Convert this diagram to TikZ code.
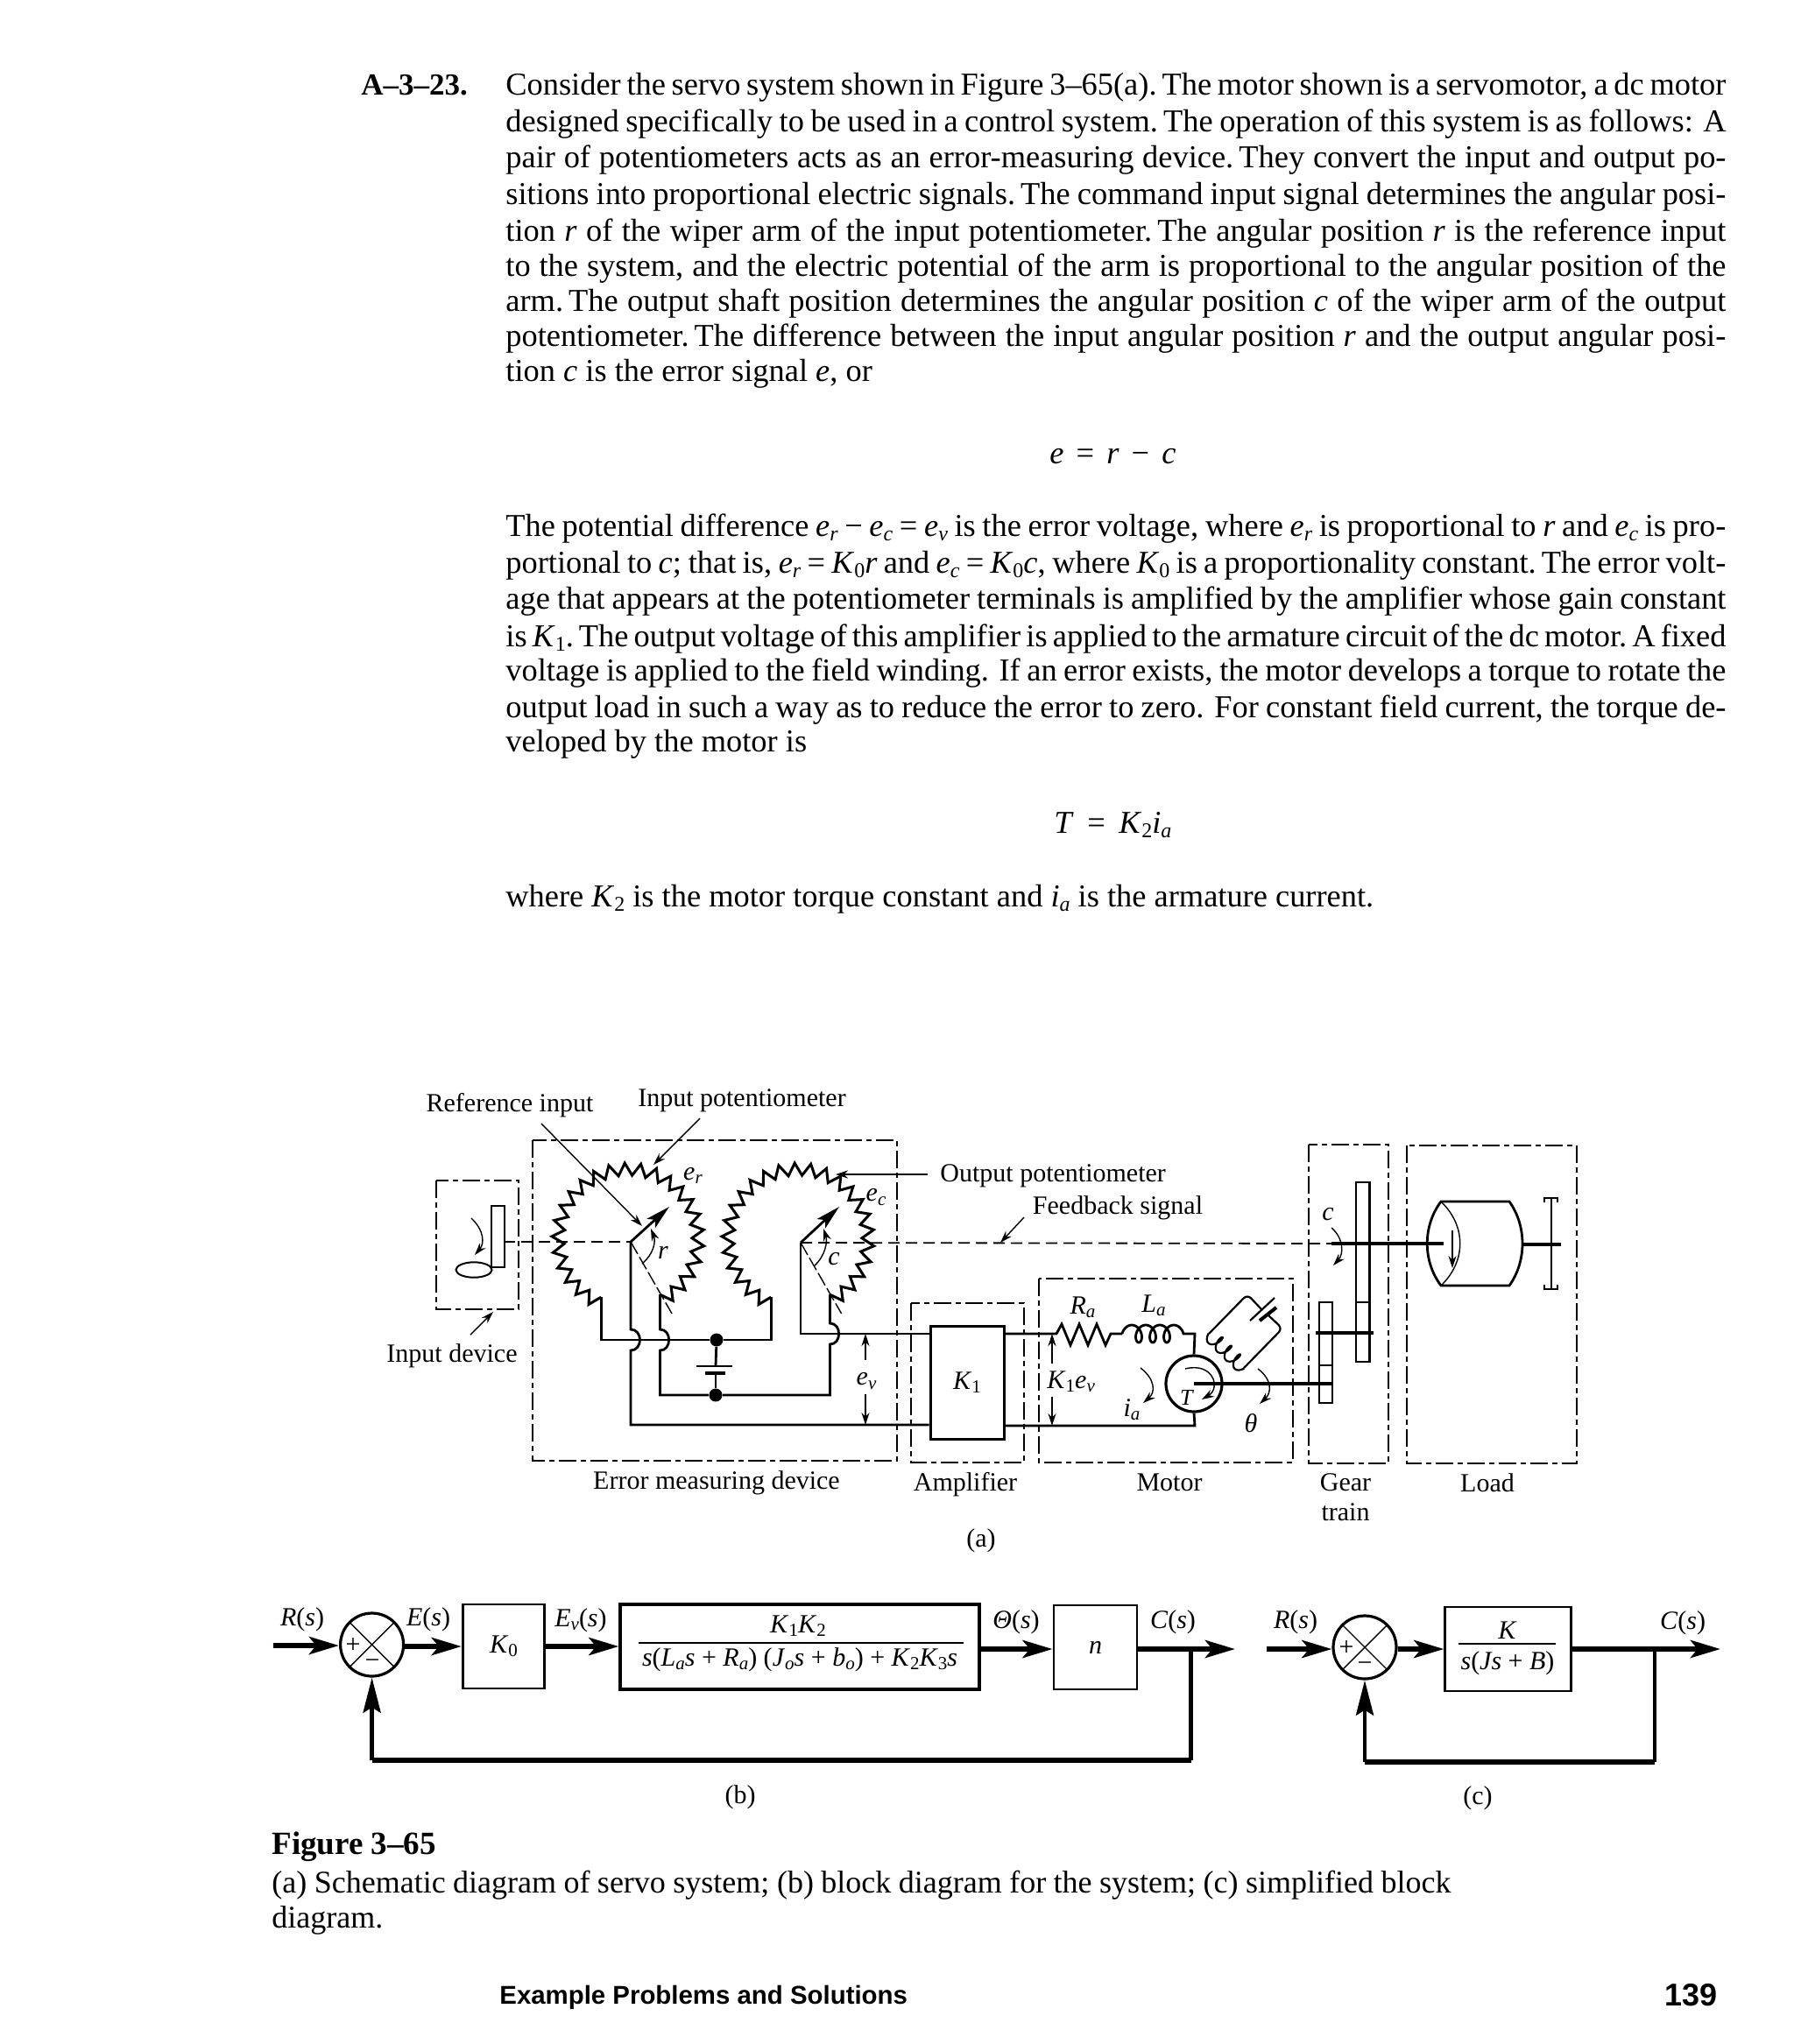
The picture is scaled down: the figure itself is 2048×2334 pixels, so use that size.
\documentclass[tikz,border=0pt]{standalone}
\usepackage{fontspec}
\setmainfont{Liberation Serif}
\newfontfamily\footfont{Liberation Sans}
\usetikzlibrary{arrows.meta,calc,shapes.geometric}
\newcommand\iv[1]{\textit{#1}}
\newcommand\sbi[2]{\textit{#1}\raisebox{-.3ex}{\fontsize{12}{12}\selectfont\textit{#2}}}
\newcommand\sbu[2]{\textit{#1}\raisebox{-.3ex}{\fontsize{12}{12}\selectfont #2}}
\newcommand\lsb[2]{\textit{#1}\raisebox{-.3ex}{\fontsize{10.5}{11}\selectfont\textit{#2}}}
\newcommand\lsu[2]{\textit{#1}\raisebox{-.3ex}{\fontsize{10.5}{11}\selectfont #2}}
\newcommand\jl[3]{\node[bodytxt] (#1) at (577,#2) {\makebox[696.5pt][s]{#3}};}
\newcommand\pl[3]{\node[bodytxt] (#1) at (577,#2) {#3};}
\newcommand\potzig[2]{\draw[wire,line width=1.5pt,line join=miter] plot[domain=0:50,samples=51] ({#1+(80-7*cos(180*\x))*cos(245-6.1*\x)},{#2-(80-7*cos(180*\x))*sin(245-6.1*\x)});}
\tikzset{
  bodytxt/.style={anchor=base west,inner sep=0pt,font=\fontsize{18.2}{20}\selectfont},
  lbl/.style={inner sep=0pt,font=\fontsize{15}{17}\selectfont},
  wire/.style={line width=1.4pt},
  thinl/.style={line width=.7pt},
  boxd/.style={line width=.75pt,dash pattern=on 10pt off 2.5pt on 3pt off 2.5pt},
  fbdash/.style={line width=.9pt,dash pattern=on 6.5pt off 3.5pt},
  thinar/.style={thinl,-{Stealth[length=7pt,width=4.5pt]}},
  sig/.style={line width=3pt,-{Stealth[length=17pt,width=10pt,inset=4pt]}},
  fb/.style={line width=2.4pt},
  blk/.style={draw,line width=1.4pt,inner sep=0pt},
  sumj/.style={draw,circle,line width=1.6pt,inner sep=0pt,minimum size=36pt},
  dotn/.style={circle,fill=black,inner sep=0pt,minimum size=7.5pt},
}
\begin{document}
\begin{tikzpicture}[x=.5pt,y=-.5pt]
\useasboundingbox (0,0) rectangle (2048,2334);
% ---- body text
\node[bodytxt,font=\fontsize{17.5}{20}\selectfont\bfseries] (prob) at (412,108) {A–3–23.};
\jl{l1}{108}{Consider the servo system shown in Figure 3–65(a).\,The motor shown is a servomotor, a dc motor}
\jl{l2}{150}{designed specifically to be used in a control system.\,The operation of this system is as follows: A}
\jl{l3}{191}{pair of potentiometers acts as an error-measuring device.\,They convert the input and output po-}
\jl{l4}{233}{sitions into proportional electric signals.\,The command input signal determines the angular posi-}
\jl{l5}{275}{tion \iv{r} of the wiper arm of the input potentiometer.\,The angular position \iv{r} is the reference input}
\jl{l6}{315}{to the system, and the electric potential of the arm is proportional to the angular position of the}
\jl{l7}{355}{arm.\,The output shaft position determines the angular position \iv{c} of the wiper arm of the output}
\jl{l8}{395}{potentiometer.\,The difference between the input angular position \iv{r} and the output angular posi-}
\pl{l9}{435}{tion \iv{c} is the error signal \iv{e}, or}
\node[bodytxt] (eq1) at (1198,529) {\makebox[72pt][s]{\iv{e} = \iv{r} − \iv{c}}};
\jl{m1}{612}{The potential difference \sbi{e}{r} − \sbi{e}{c} = \sbi{e}{v} is the error voltage, where \sbi{e}{r} is proportional to \iv{r} and \sbi{e}{c} is pro-}
\jl{m2}{654}{portional to \iv{c}; that is, \sbi{e}{r} = \sbu{K}{0}\iv{r} and \sbi{e}{c} = \sbu{K}{0}\iv{c}, where \sbu{K}{0} is a proportionality constant.\,The error volt-}
\jl{m3}{695}{age that appears at the potentiometer terminals is amplified by the amplifier whose gain constant}
\jl{m4}{738}{is \sbu{K}{1}.\,The output voltage of this amplifier is applied to the armature circuit of the dc motor.\,A fixed}
\jl{m5}{777}{voltage is applied to the field winding. If an error exists, the motor develops a torque to rotate the}
\jl{m6}{819}{output load in such a way as to reduce the error to zero. For constant field current, the torque de-}
\pl{m7}{858}{veloped by the motor is}
\node[bodytxt] (eq2) at (1203,951) {\makebox[67pt][s]{\iv{T} = \sbu{K}{2}\sbi{i}{a}}};
\pl{n1}{1035}{where \sbu{K}{2} is the motor torque constant and \sbi{i}{a} is the armature current.}
% ---- dashed boxes
\draw[boxd] (608,1302) rectangle (1024,1668);
\draw[boxd] (498,1348) rectangle (592,1495);
\draw[boxd] (1040,1488) rectangle (1169,1670);
\draw[boxd] (1186,1460) rectangle (1476,1670);
\draw[boxd] (1494,1307) rectangle (1585,1671);
\draw[boxd] (1606,1308) rectangle (1800,1671);
% ---- input device
\draw[thinl,line width=1pt] (561,1377) rectangle (576,1447);
\node[draw,ellipse,line width=1pt,minimum width=20.5pt,minimum height=8.7pt,inner sep=0pt] (knob) at (541,1450) {};
\draw[thinar] (538,1391) .. controls (553,1405) and (553,1420) .. (542,1433);
% ---- potentiometers
\potzig{717}{1415}
\potzig{911}{1415}
\coordinate (p1L) at (686.2,1481.2);
\coordinate (p1R) at (753.5,1478.2);
\coordinate (p2L) at (880.2,1481.2);
\coordinate (p2R) at (947.5,1478.2);
\coordinate (piv1) at (720,1418);
\coordinate (piv2) at (914,1419);
\coordinate (wip1) at (764,1378);
\coordinate (wip2) at (958,1378);
\node[dotn] (nA) at (818,1530) {};
\node[dotn] (nB) at (817,1593) {};
% amplifier
\node[blk,line width=1.5pt,minimum width=42pt,minimum height=64.5pt,font=\fontsize{15}{17}\selectfont] (amp) at (1104,1578.5) {\lsu{K}{1}};
% wires of the bridge
\draw[wire] (p1L) |- (nA) -| (p2L);
\draw[wire] (piv1) -- (720,1518) .. controls (734,1518) and (734,1542) .. (720,1542) -- (720,1627) -- (amp.west |- 0,1627);
\draw[wire] (p1R) -- (753.5,1518) .. controls (767,1518) and (767,1542) .. (753.5,1542) -- (753.5,1593) -- (nB) -- (947.5,1593) -- (947.5,1535) .. controls (961,1535) and (961,1511) .. (947.5,1511) -- (p2R);
\draw[wire] (piv2) -- (914,1523) -- (amp.west |- 0,1523);
\draw[wire,-{Stealth[length=14pt,width=7pt,inset=3pt]}] (piv1) -- (wip1);
\draw[wire,-{Stealth[length=14pt,width=7pt,inset=3pt]}] (piv2) -- (wip2);
% battery
\coordinate (batA) at (817,1560);
\coordinate (batB) at (817,1568);
\draw[wire] (nA) -- (batA);
\draw[wire] (795,1560) -- (836,1560);
\draw[wire,line width=1.6pt] (805,1568) -- (828,1568);
\draw[wire] (batB) -- (nB);
% angle marks
\draw[thinl,dash pattern=on 8pt off 2pt] (piv1) -- (767,1500);
\draw[thinl,dash pattern=on 8pt off 2pt] (piv2) -- (960.6,1500);
\draw[thinar] (733,1443) .. controls (746,1432) and (749,1418) .. (743,1403);
\draw[thinar] (930,1445) .. controls (942,1434) and (945,1418) .. (940,1403);
% feedback dashed
\draw[fbdash] (575,1418) -- (piv1);
\draw[fbdash] (piv2) -- (1520,1420);
% labels error part
\node[lbl] (tRef) at (582,1262) {Reference input};
\node[lbl] (tInp) at (847,1257) {Input potentiometer};
\node[lbl] (tDev) at (516,1548) {Input device};
\node[lbl] (ter) at (791,1342) {\lsb{e}{r}};
\node[lbl] (tec) at (1000,1367) {\lsb{e}{c}};
\node[lbl] (tr) at (757,1430) {\iv{r}};
\node[lbl] (tc) at (952,1438) {\iv{c}};
\node[lbl] (tev) at (989,1577) {\lsb{e}{v}};
\node[lbl] (tErr) at (818,1693) {Error measuring device};
\node[lbl] (tAmp) at (1102,1695) {Amplifier};
\node[lbl] (tMot) at (1335,1693) {Motor};
\node[lbl,align=center] (tG1) at (1536,1693) {Gear};
\node[lbl,align=center] (tG2) at (1536,1727) {train};
\node[lbl] (tLoad) at (1698,1693) {Load};
\node[lbl] (tA) at (1120,1759) {(a)};
\coordinate (refA) at (618,1283);
\coordinate (refB) at (733,1400);
\draw[thinar] (refA) -- (refB);
\coordinate (inpA) at (799,1277);
\coordinate (inpB) at (746,1330);
\draw[thinar] (inpA) -- (inpB);
\coordinate (devA) at (537,1524);
\coordinate (devB) at (563,1498);
\draw[thinar] (devA) -- (devB);
\node[lbl,anchor=west] (tOut) at (1073,1343) {Output potentiometer};
\coordinate (outA) at (1059,1341);
\draw[thinar] (outA) -- (954,1341);
\node[lbl] (tFb) at (1276,1379) {Feedback signal};
\draw[thinar] (1169,1390) -- (1142,1419);
% ev arrows
\draw[thinar] (988,1553) -- (988,1523);
\draw[thinar] (988,1592) -- (988,1627);
% motor
\node[draw,circle,line width=1.6pt,minimum size=32pt,inner sep=0pt] (mot) at (1363,1580) {};
\draw[wire] (amp.east |- 0,1523) -- (1206,1523) -- (1212,1512) -- (1222,1536) -- (1232,1512) -- (1242,1536) -- (1252,1512) -- (1262,1536) -- (1268,1523) -- (1281,1523)
  plot[domain=.25:3.75,samples=100,smooth] ({1284+16*\x-7*sin(360*\x)},{1533-10*(1-cos(360*\x))}) -- (1364,1523) -- (mot.north);
\draw[wire] (amp.east |- 0,1628) -- (1364,1628) -- (mot.south);
\draw[thinar] (1201,1557) -- (1201,1523);
\draw[thinar] (1201,1595) -- (1201,1628);
\node[lbl,anchor=west] (tK) at (1195,1578) {\lsu{K}{1}\lsb{e}{v}};
\node[lbl] (tRa) at (1236,1493) {\lsb{R}{a}};
\node[lbl] (tLa) at (1317,1491) {\lsb{L}{a}};
\node[lbl] (tia) at (1292,1610) {\lsb{i}{a}};
\node[lbl] (tT) at (1355,1596) {\fontsize{13}{13}\selectfont\iv{T}};
\node[lbl] (tth) at (1428,1625) {\iv{θ}};
\draw[thinar] (1302,1562) .. controls (1319,1575) and (1319,1590) .. (1305,1602);
\draw[thinar] (1436,1563) .. controls (1452,1575) and (1452,1590) .. (1438,1603);
\draw[thinar] (1353,1563) .. controls (1385,1555) and (1394,1585) .. (1372,1598);
% field winding
\draw[wire,line width=1.1pt,rounded corners=3pt] (1420,1562) -- (1464,1517) -- (1448,1502);
\draw[wire,line width=1.1pt,rounded corners=3pt] (1440,1495) -- (1424,1478) -- (1380,1523);
\draw[wire,line width=1.1pt] (1455,1482) -- (1427,1508);
\draw[wire,line width=2pt] (1457,1493) -- (1438,1508);
\begin{scope}[shift={(1380,1523)},rotate=-44.3]
\draw[wire,line width=1.1pt] plot[domain=.25:3.75,samples=100,smooth] ({14*\x-4*sin(360*\x)},{-8*cos(360*\x)});
\end{scope}
% gears
\draw[wire] (1548,1350) rectangle (1563.5,1555);
\draw[thinl] (1548,1487) -- (1563.5,1487);
\draw[wire] (1506,1487) rectangle (1521,1602);
\draw[thinl] (1506,1559) -- (1521,1559);
\draw[wire,line width=1.6pt] (1502,1522) -- (1568,1522);
\draw[wire,line width=2pt] (mot.center) -- (1520,1580);
\draw[wire,line width=2pt] (1520,1420) -- (1648,1420);
\draw[thinar] (1520,1402) .. controls (1534,1414) and (1534,1432) .. (1522,1445);
\node[lbl] (tcc) at (1516,1387) {\iv{c}};
% load
\draw[wire] (1645,1372) -- (1723,1372) .. controls (1743,1400) and (1743,1440) .. (1723,1468) -- (1645,1468) .. controls (1624,1440) and (1624,1400) .. cycle;
\draw[thinl] (1645,1372) .. controls (1674,1400) and (1674,1440) .. (1645,1468);
\draw[thinar] (1658,1405) -- (1658,1448);
\draw[wire,line width=2pt] (1738,1421) -- (1782,1421);
\draw[wire] (1771,1368) -- (1771,1472);
\draw[wire,line width=1pt] (1763,1373) -- (1763,1368) -- (1778,1368) -- (1778,1373);
\draw[wire,line width=1pt] (1763,1467) -- (1763,1472) -- (1778,1472) -- (1778,1467);
% ---- block diagram (b)
\node[sumj] (sb) at (424.6,1878) {};
\draw[thinl] ($(sb)+(-25,-25)$) -- ($(sb)+(25,25)$);
\draw[thinl] ($(sb)+(-25,25)$) -- ($(sb)+(25,-25)$);
\node[lbl] (pb) at (403,1879) {+};
\node[lbl] (mb) at (425,1900) {−};
\node[blk,minimum width=46.75pt,minimum height=48pt,font=\fontsize{15}{17}\selectfont] (k0) at (575,1880) {\lsu{K}{0}};
\node[blk,line width=1.6pt,minimum width=205pt,minimum height=48.5pt] (g) at (913,1880.5) {};
\node[blk,minimum width=47.5pt,minimum height=48pt,font=\fontsize{15}{17}\selectfont] (nb) at (1250.5,1881) {\iv{n}};
\coordinate (rb) at (311.5,1879);
\coordinate (ob) at (1410,1883);
\coordinate (bb) at (1359.5,1883);
\coordinate (fb1) at (1359.5,2010);
\coordinate (fb2) at (424.6,2010);
\draw[sig] (rb) -- (sb.west |- rb);
\draw[sig] (sb.east |- 0,1880) -- (k0.west |- 0,1880);
\draw[sig] (k0.east |- 0,1880) -- (g.west |- 0,1880);
\draw[sig] (g.east |- 0,1883) -- (nb.west |- 0,1883);
\draw[sig] (nb.east |- ob) -- (ob);
\draw[fb] (bb) -- (fb1);
\draw[line width=3pt] (fb1) -- (fb2);
\draw[fb,-{Stealth[length=20pt,width=10pt,inset=3pt]}] (fb2) -- (sb.south);
\node[lbl] (tRb) at (345,1849) {\iv{R}(\iv{s})};
\node[lbl] (tEb) at (489,1849) {\iv{E}(\iv{s})};
\node[lbl] (tEv) at (663,1850) {\lsb{E}{v}(\iv{s})};
\node[lbl] (tTh) at (1160,1852) {\iv{Θ}(\iv{s})};
\node[lbl] (tCb) at (1339,1852) {\iv{C}(\iv{s})};
\node[lbl] (num) at (911,1857) {\lsu{K}{1}\lsu{K}{2}};
\coordinate (fl) at (729,1876);
\coordinate (fr) at (1100,1876);
\draw[thinl] (fl) -- (fr);
\node[lbl] (den) at (913,1895) {\iv{s}(\lsb{L}{a}\iv{s} + \lsb{R}{a}) (\lsb{J}{o}\iv{s} + \lsb{b}{o}) + \lsu{K}{2}\lsu{K}{3}\iv{s}};
\node[lbl] (tbb) at (845,2052) {(b)};
% ---- block diagram (c)
\node[sumj] (sc) at (1558,1881) {};
\draw[thinl] ($(sc)+(-25,-25)$) -- ($(sc)+(25,25)$);
\draw[thinl] ($(sc)+(-25,25)$) -- ($(sc)+(25,-25)$);
\node[lbl] (pc) at (1537,1882) {+};
\node[lbl] (mc) at (1558,1903) {−};
\node[blk,minimum width=71.75pt,minimum height=48pt] (gc) at (1721.5,1883) {};
\coordinate (rc) at (1445.6,1883);
\coordinate (oc) at (1964,1883);
\coordinate (bc) at (1889,1883);
\coordinate (fc1) at (1889,2012);
\coordinate (fc2) at (1558,2012);
\draw[sig] (rc) -- (sc.west |- rc);
\draw[sig] (sc.east |- gc) -- (gc.west);
\draw[sig] (gc.east) -- (oc);
\draw[fb] (bc) -- (fc1);
\draw[line width=3pt] (fc1) -- (fc2);
\draw[fb,-{Stealth[length=20pt,width=10pt,inset=3pt]}] (fc2) -- (sc.south);
\node[lbl] (tRc) at (1479,1852) {\iv{R}(\iv{s})};
\node[lbl] (tCc) at (1921,1853) {\iv{C}(\iv{s})};
\node[lbl] (numc) at (1721,1862) {\iv{K}};
\coordinate (gl) at (1665,1877);
\coordinate (gr) at (1776,1877);
\draw[thinl] (gl) -- (gr);
\node[lbl] (denc) at (1721,1899) {\iv{s}(\iv{Js} + \iv{B})};
\node[lbl] (tcb) at (1687,2053) {(c)};
% ---- caption and footer
\node[bodytxt,font=\fontsize{18.5}{20}\selectfont\bfseries] (capA) at (310,2117) {Figure 3–65};
\node[bodytxt,font=\fontsize{18}{20}\selectfont] (capB) at (310,2161) {\makebox[673pt][s]{(a) Schematic diagram of servo system; (b) block diagram for the system; (c) simplified block}};
\node[bodytxt,font=\fontsize{18}{20}\selectfont] (capC) at (310,2201) {diagram.};
\node[bodytxt,font=\fontsize{14.7}{18}\footfont\bfseries] (foot) at (570,2288) {Example Problems and Solutions};
\node[bodytxt,font=\fontsize{18}{20}\footfont\bfseries] (pg) at (1900,2290) {139};
\end{tikzpicture}
\end{document}
